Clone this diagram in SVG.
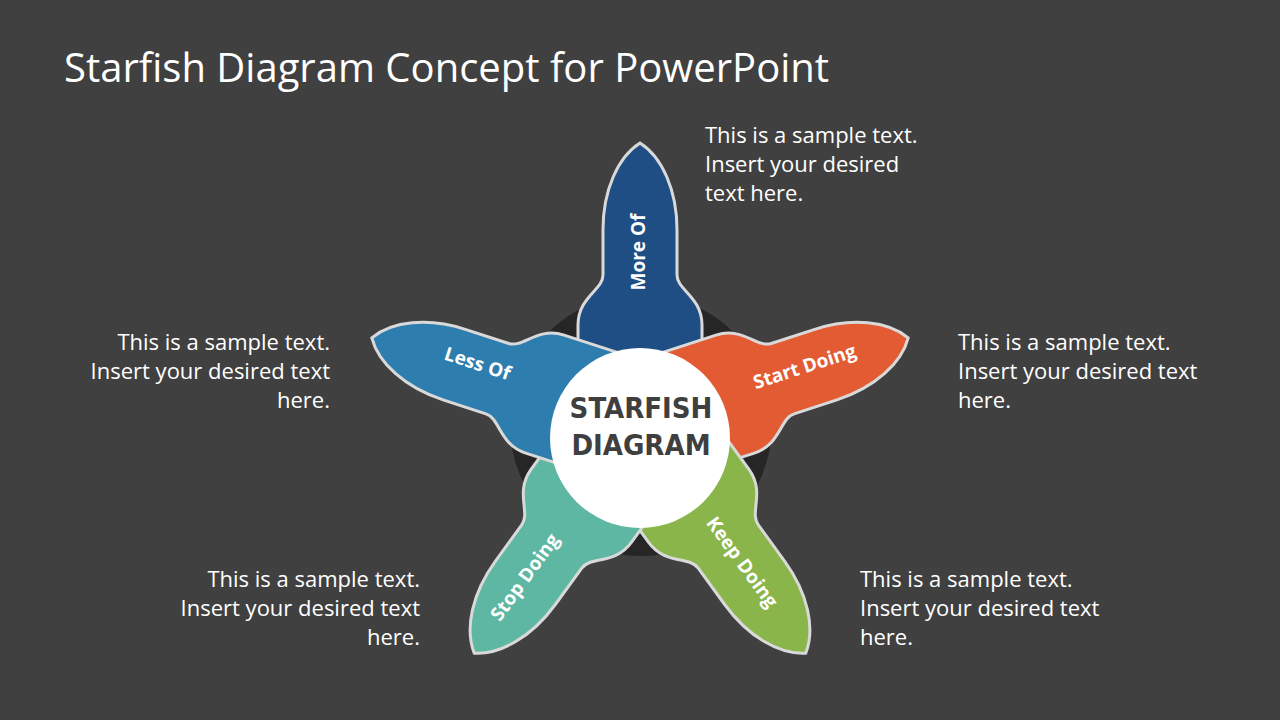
<svg xmlns="http://www.w3.org/2000/svg" width="1280" height="720" viewBox="0 0 1280 720">
<defs>
<style>
.t{font-family:"Open Sans","Liberation Sans",sans-serif;fill:#fff}
.b{font-size:22px}
.p{stroke:#D9D9D9;stroke-width:3}
.l{font-family:"Open Sans","Liberation Sans",sans-serif;font-weight:bold;font-size:19px;fill:#fff;text-anchor:middle;dominant-baseline:middle}
.c{font-family:"DejaVu Sans Condensed","Roboto",sans-serif;font-weight:bold;font-size:29px;fill:#3F3F3F;text-anchor:middle}
</style>
<path id="petal" d="M0 -282 C22 -268 37 -235 37 -195 L37 -150 C37 -135 62 -128 62 -100 L62 -40 L-62 -40 L-62 -100 C-62 -128 -37 -135 -37 -150 L-37 -195 C-37 -235 -22 -268 0 -282 Z"/>
</defs>
<rect width="1280" height="720" fill="#404040"/>
<text class="t" x="64" y="82" font-size="40">Starfish Diagram Concept for PowerPoint</text>
<circle cx="641" cy="425" r="131" fill="#262626"/>
<g id="more-of"><use href="#petal" class="p" fill="#1F4E84" transform="translate(640 425)"/><text class="l" transform="translate(640 252) rotate(-90)">More Of</text></g>
<g id="start-doing"><use href="#petal" class="p" fill="#E25B33" transform="translate(640 425) rotate(72)"/><text class="l" transform="translate(805 368) rotate(-18)">Start Doing</text></g>
<g id="keep-doing"><use href="#petal" class="p" fill="#8AB54A" transform="translate(640 425) rotate(144)"/><text class="l" transform="translate(741 563) rotate(54)">Keep Doing</text></g>
<g id="stop-doing"><use href="#petal" class="p" fill="#5DB7A2" transform="translate(640 425) rotate(216)"/><text class="l" transform="translate(526 578) rotate(-54)">Stop Doing</text></g>
<g id="less-of"><use href="#petal" class="p" fill="#2E7DAF" transform="translate(640 425) rotate(288)"/><text class="l" transform="translate(477 365) rotate(18)">Less Of</text></g>
<g id="center"><circle cx="640" cy="438" r="90" fill="#fff"/>
<text class="c" x="641" y="418">STARFISH</text><text class="c" x="641" y="455">DIAGRAM</text></g>
<g class="t b">
<text x="705" y="143">This is a sample text.</text><text x="705" y="172">Insert your desired</text><text x="705" y="201">text here.</text>
<text x="958" y="350">This is a sample text.</text><text x="958" y="379">Insert your desired text</text><text x="958" y="408">here.</text>
<text x="860" y="587">This is a sample text.</text><text x="860" y="616">Insert your desired text</text><text x="860" y="645">here.</text>
<g text-anchor="end">
<text x="330" y="350">This is a sample text.</text><text x="330" y="379">Insert your desired text</text><text x="330" y="408">here.</text>
<text x="420" y="587">This is a sample text.</text><text x="420" y="616">Insert your desired text</text><text x="420" y="645">here.</text>
</g></g>
</svg>
